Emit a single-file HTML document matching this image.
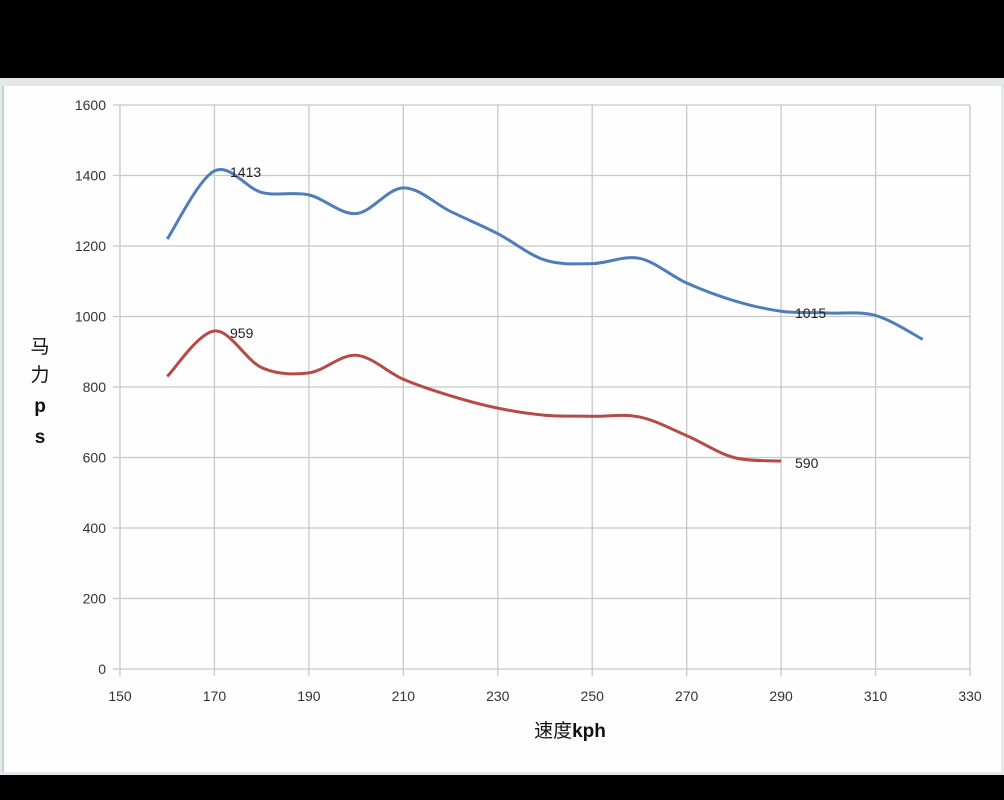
<!DOCTYPE html>
<html><head><meta charset="utf-8"><style>
html,body{margin:0;padding:0;background:#000;}
body{width:1004px;height:800px;position:relative;overflow:hidden;}
</style></head><body>
<svg id="s" width="1004" height="800" xmlns="http://www.w3.org/2000/svg" style="position:absolute;left:0;top:0">
<rect x="0" y="78" width="1004" height="697" fill="#e4e8e8"/>
<rect x="3" y="86" width="998" height="686" fill="#fefefe"/>
<line x1="3" y1="86" x2="3" y2="772" stroke="#b8d4d4" stroke-width="2"/>
<g id="grid" stroke="#c8c8c8" stroke-width="1.3"></g>
<g id="lab" font-family="Liberation Sans, sans-serif" font-size="14" fill="#333"></g>
<path id="blue" fill="none" stroke="#4f7db8" stroke-width="3"/>
<path id="red" fill="none" stroke="#b54a47" stroke-width="3"/>
<g font-family="Liberation Sans, sans-serif" font-size="14" fill="#222">
<text x="230" y="177">1413</text>
<text x="230" y="338">959</text>
<text x="795" y="318">1015</text>
<text x="795" y="468">590</text>
</g>
<g font-family="Liberation Sans, 'Noto Sans CJK SC', sans-serif" font-size="19" font-weight="bold" fill="#111" text-anchor="middle">
<text x="40" y="353" font-weight="normal">马</text>
<text x="40" y="381" font-weight="normal">力</text>
<text x="40" y="412">p</text>
<text x="40" y="443">s</text>
<text x="570" y="737"><tspan font-weight="normal">速度</tspan>kph</text>
</g>
</svg>
<script>
var NS="http://www.w3.org/2000/svg";
function X(v){return 120+(v-150)*(850/180);}
function Y(v){return 669-v*(564/1600);}
var g=document.getElementById('grid'),lab=document.getElementById('lab');
function el(p,t,a,txt){var e=document.createElementNS(NS,t);for(var k in a)e.setAttribute(k,a[k]);if(txt!=null)e.textContent=txt;p.appendChild(e);}
for(var v=0;v<=1600;v+=200){var y=Y(v);el(g,'line',{x1:113,x2:970,y1:y,y2:y});el(lab,'text',{x:106,y:y+5,'text-anchor':'end'},v);}
for(var v=150;v<=330;v+=20){var x=X(v);el(g,'line',{x1:x,x2:x,y1:105,y2:676});el(lab,'text',{x:x,y:701,'text-anchor':'middle'},v);}
function path(d){var p=d.map(function(a){return [X(a[0]),Y(a[1])];});var s='M'+p[0][0]+','+p[0][1];
for(var i=0;i<p.length-1;i++){var p0=p[i-1]||p[i],p1=p[i],p2=p[i+1],p3=p[i+2]||p2;var t=0.16*1.0;
var c1=[p1[0]+(p2[0]-p0[0])/6,p1[1]+(p2[1]-p0[1])/6],c2=[p2[0]-(p3[0]-p1[0])/6,p2[1]-(p3[1]-p1[1])/6];
s+=' C'+c1[0]+','+c1[1]+' '+c2[0]+','+c2[1]+' '+p2[0]+','+p2[1];}return s;}
var b=[[160,1220],[170,1413],[180,1352],[190,1345],[200,1292],[210,1365],[220,1298],[230,1235],[240,1160],[250,1150],[260,1165],[270,1095],[280,1045],[290,1015],[300,1010],[310,1003],[320,935]];
var r=[[160,830],[170,959],[180,855],[190,840],[200,890],[210,822],[220,775],[230,740],[240,720],[250,717],[260,715],[270,662],[280,600],[290,590]];
document.getElementById('blue').setAttribute('d',path(b));
document.getElementById('red').setAttribute('d',path(r));
</script>
</body></html>
